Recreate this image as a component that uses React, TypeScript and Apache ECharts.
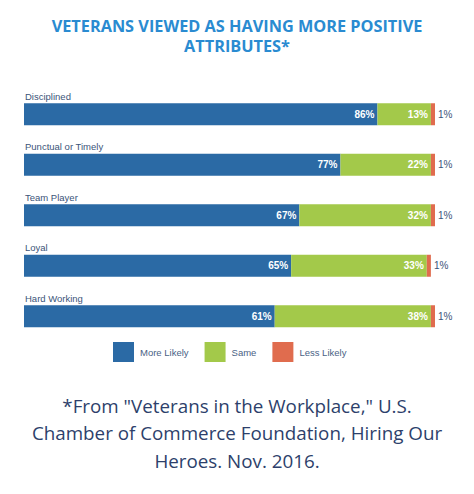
import React, { useEffect, useRef } from "react";
import * as echarts from "echarts";

const categories = ["Disciplined", "Punctual or Timely", "Team Player", "Loyal", "Hard Working"];
const moreLikely = [86, 77, 67, 65, 61];
const same = [13, 22, 32, 33, 38];
const lessLikely = [1, 1, 1, 1, 1];
const seriesNames = ["More Likely", "Same", "Less Likely"];
const titleLines = ["VETERANS VIEWED AS HAVING MORE POSITIVE", "ATTRIBUTES*"];
const footText = '*From "Veterans in the Workplace," U.S.\nChamber of Commerce Foundation, Hiring Our\nHeroes. Nov. 2016.';

const BLUE = "#2b6aa5";
const GREEN = "#a3c94a";
const RED = "#e06c4e";
const LABEL = "#3b5479";
const SANS = "Liberation Sans, Arial, sans-serif";

export default function App() {
  const ref = useRef<HTMLDivElement>(null);
  useEffect(() => {
    if (!ref.current) return;
    const chart = echarts.init(ref.current, null, { renderer: "svg" });
    const valueLabel = {
      show: true,
      position: "insideRight" as const,
      color: "#ffffff",
      fontWeight: "bold" as const,
      fontSize: 10,
      fontFamily: SANS,
      distance: 3,
      formatter: "{c}%",
    };
    const titleEls = titleLines.map((t, i) => ({
      type: "text",
      x: 237,
      y: 25.6 + i * 19.9,
      style: {
        text: t,
        align: "center",
        verticalAlign: "middle",
        fontFamily: "Open Sans",
        fontWeight: "bold",
        fontSize: 16.3,
        fill: "#2a8bd1",
      },
    }));
    chart.setOption({
      animation: false,
      backgroundColor: "#ffffff",
      graphic: [
        ...titleEls,
        {
          type: "text",
          x: 237,
          y: 392,
          style: {
            text: footText,
            align: "center",
            verticalAlign: "top",
            fontFamily: "Open Sans",
            fontWeight: "normal",
            fontSize: 18.8,
            lineHeight: 27.5,
            fill: "#2d3f6b",
          },
        },
      ],
      legend: {
        data: seriesNames,
        left: 113,
        top: 342,
        padding: 0,
        icon: "rect",
        itemWidth: 21,
        itemHeight: 20,
        itemGap: 16,
        textStyle: { fontFamily: SANS, fontSize: 9.5, color: "#4a6285", padding: [0, 0, 0, 1] },
      },
      grid: { left: 24, right: 39, top: 89, height: 252.5, containLabel: false },
      xAxis: { type: "value", min: 0, max: 100, show: false },
      yAxis: {
        type: "category",
        data: categories,
        inverse: true,
        axisLine: { show: false },
        axisTick: { show: false },
        splitLine: { show: false },
        axisLabel: {
          inside: true,
          margin: 1,
          align: "left",
          verticalAlign: "bottom",
          padding: [0, 0, 13, 0],
          fontFamily: SANS,
          fontSize: 9.5,
          color: LABEL,
        },
      },
      series: [
        {
          name: seriesNames[0],
          type: "bar",
          stack: "total",
          barWidth: 22,
          data: moreLikely,
          itemStyle: { color: BLUE },
          label: valueLabel,
        },
        {
          name: seriesNames[1],
          type: "bar",
          stack: "total",
          barWidth: 22,
          data: same,
          itemStyle: { color: GREEN },
          label: valueLabel,
        },
        {
          name: seriesNames[2],
          type: "bar",
          stack: "total",
          barWidth: 22,
          data: lessLikely,
          itemStyle: { color: RED },
          label: {
            show: true,
            position: "right",
            distance: 3,
            color: LABEL,
            fontSize: 10,
            fontFamily: SANS,
            formatter: "{c}%",
          },
        },
      ],
    });
    return () => chart.dispose();
  }, []);
  return <div ref={ref} style={{ width: 474, height: 494, margin: -8 }} />;
}
